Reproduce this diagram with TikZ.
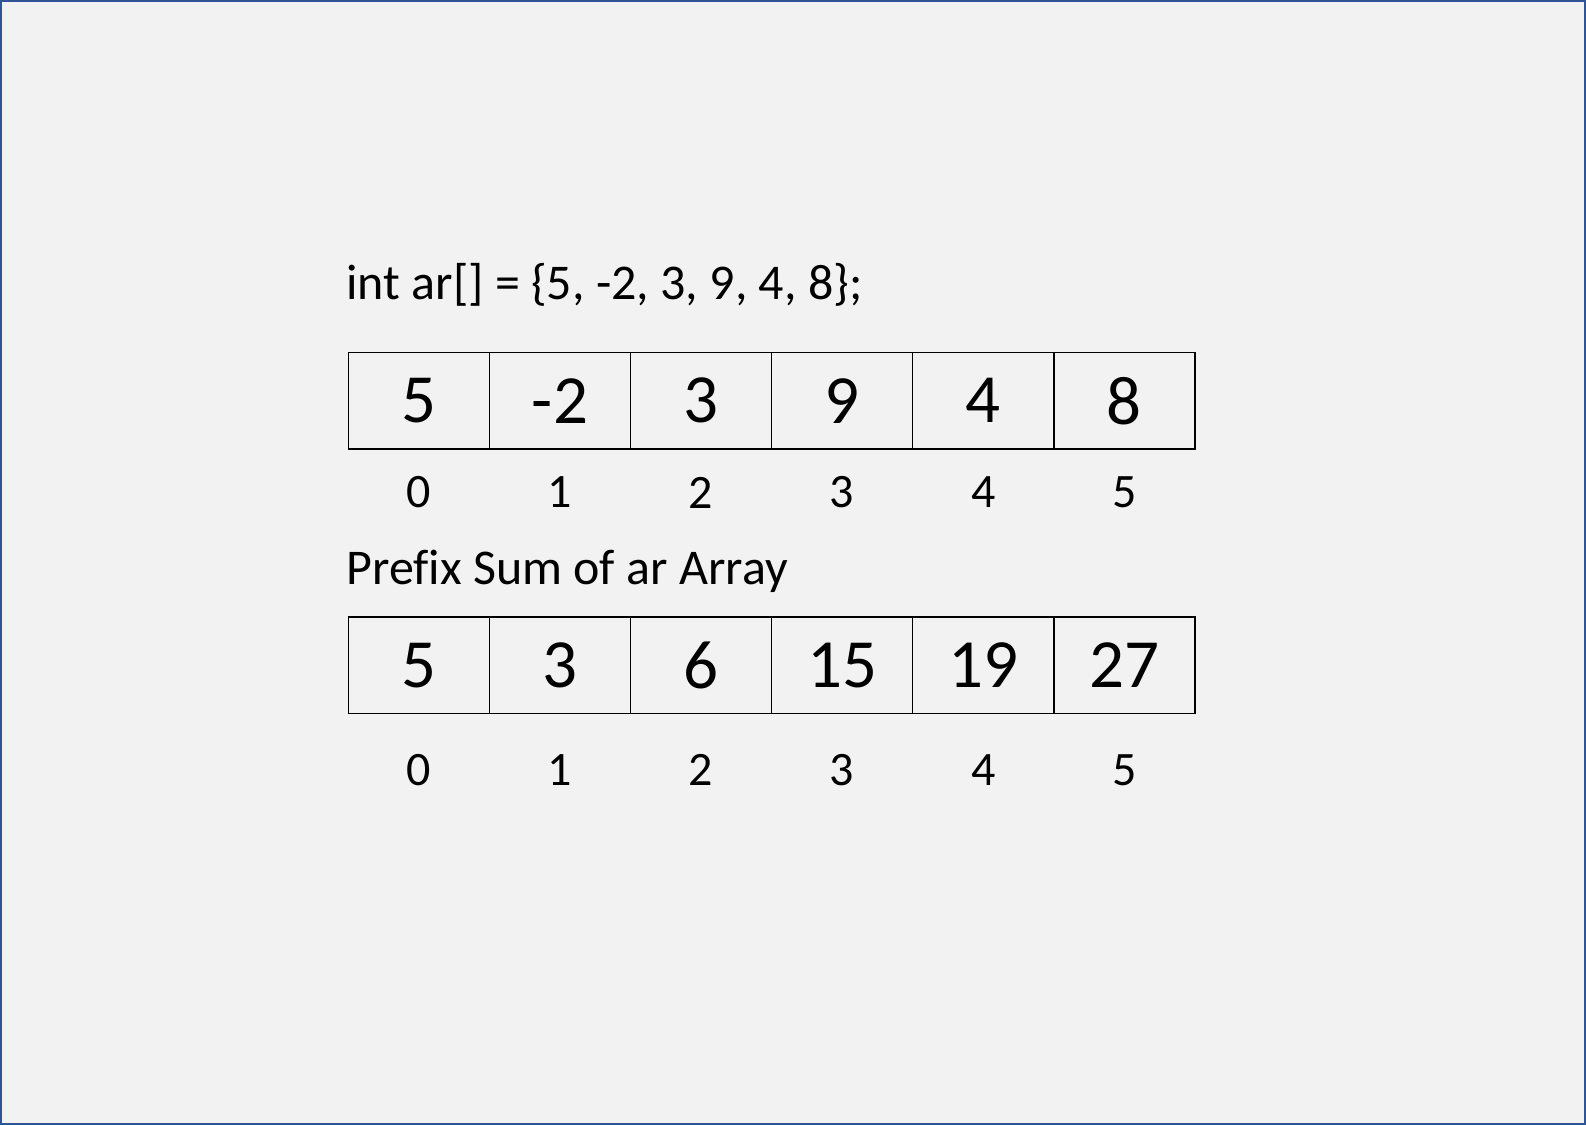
\documentclass[tikz,border=0pt]{standalone}
\usepackage{fontspec}
\setmainfont{Carlito}[Ligatures=NoCommon]
\usepackage{xcolor}
\definecolor{slideblue}{RGB}{47,85,151}
\definecolor{slidegrey}{RGB}{242,242,242}
\tikzset{
    cell/.style={
        draw,
        line width=0.75pt,
        minimum width=70.55pt,
        minimum height=48.15pt,
        inner sep=0pt,
        font=\fontsize{34.5}{40}\selectfont,
    },
    index/.style={
        inner sep=0pt,
        font=\fontsize{24}{28}\selectfont,
    },
    caption/.style={
        anchor=base west,
        inner sep=0pt,
        font=\fontsize{25}{30}\selectfont,
    },
}
\begin{document}
\begin{tikzpicture}[x=0.5pt, y=0.5pt]
    \useasboundingbox (0, 0) rectangle (1586, 1125);
    % Slide background with its frame
    \draw[slideblue, line width=1pt, fill=slidegrey] (1, 1) rectangle (1585, 1124);

    % Declaration of the array
    \node[caption] (decl) at (346, 825) {int ar[] = \{5, -2, 3, 9, 4, 8\};};

    % Array ar, six cells
    \node[cell] (a0) at (418.85, 724.2) {5};
    \node[cell] (a1) at (559.95, 724.2) {-2};
    \node[cell] (a2) at (701.05, 724.2) {3};
    \node[cell] (a3) at (842.15, 724.2) {9};
    \node[cell] (a4) at (983.25, 724.2) {4};
    \node[cell] (a5) at (1124.35, 724.2) {8};
    % Indices under ar
    \node[index] (ia0) at (418.85, 632.5) {0};
    \node[index] (ia1) at (559.95, 632.5) {1};
    \node[index] (ia2) at (701.05, 632.5) {2};
    \node[index] (ia3) at (842.15, 632.5) {3};
    \node[index] (ia4) at (983.25, 632.5) {4};
    \node[index] (ia5) at (1124.35, 632.5) {5};

    % Title of the second array
    \node[caption] (title) at (346, 540) {Prefix Sum of ar Array};

    % Prefix sums, six cells
    \node[cell] (p0) at (418.85, 459.7) {5};
    \node[cell] (p1) at (559.95, 459.7) {3};
    \node[cell] (p2) at (701.05, 459.7) {6};
    \node[cell] (p3) at (842.15, 459.7) {15};
    \node[cell] (p4) at (983.25, 459.7) {19};
    \node[cell] (p5) at (1124.35, 459.7) {27};
    % Indices under the prefix sums
    \node[index] (ip0) at (418.85, 355) {0};
    \node[index] (ip1) at (559.95, 355) {1};
    \node[index] (ip2) at (701.05, 355) {2};
    \node[index] (ip3) at (842.15, 355) {3};
    \node[index] (ip4) at (983.25, 355) {4};
    \node[index] (ip5) at (1124.35, 355) {5};
\end{tikzpicture}
\end{document}
